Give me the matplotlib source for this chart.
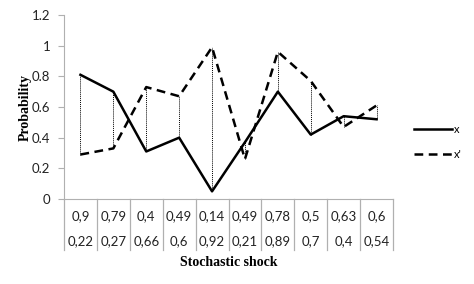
import matplotlib
matplotlib.use('Agg')
import matplotlib.pyplot as plt
import matplotlib.transforms as mtransforms

# category labels (two-level axis) and series
row1 = ['0,9', '0,79', '0,4', '0,49', '0,14', '0,49', '0,78', '0,5', '0,63', '0,6']
row2 = ['0,22', '0,27', '0,66', '0,6', '0,92', '0,21', '0,89', '0,7', '0,4', '0,54']
x_vals = [0.81, 0.70, 0.31, 0.40, 0.05, 0.37, 0.70, 0.42, 0.54, 0.52]
xp_vals = [0.29, 0.33, 0.73, 0.67, 0.99, 0.26, 0.96, 0.77, 0.47, 0.61]
yticks = [0, 0.2, 0.4, 0.6, 0.8, 1, 1.2]
ytick_labels = ['0', '0.2', '0.4', '0.6', '0.8', '1', '1.2']

grey = '#b0b0b0'
tick_font = 'Lato'
fs = 9.5

fig = plt.figure(figsize=(4.74, 2.84), dpi=100)
ax = fig.add_axes([64/474, 1-199/284, (393-64)/474, (199-15)/284])

n = len(x_vals)
pos = [i + 0.5 for i in range(n)]

# high-low drop lines
lo = [min(a, b) for a, b in zip(x_vals, xp_vals)]
hi = [max(a, b) for a, b in zip(x_vals, xp_vals)]
ax.vlines(pos, lo, hi, colors='black', linestyles=(0, (1, 1)), linewidth=0.7)

ax.plot(pos, x_vals, color='black', lw=1.8, label='x')
ax.plot(pos, xp_vals, color='black', lw=1.8, dashes=(3.5, 2.2), label="x'")

ax.set_xlim(0, n)
ax.set_ylim(0, 1.2)
ax.set_yticks(yticks)
ax.set_yticklabels(ytick_labels, fontfamily=tick_font, fontsize=fs, color='#222222')
ax.tick_params(axis='y', direction='out', length=4, color=grey, pad=6)
ax.set_xticks([])

for s in ['top', 'right']:
    ax.spines[s].set_visible(False)
ax.spines['left'].set_color(grey)
ax.spines['bottom'].set_color(grey)

# two-row category table under the axis
trans = mtransforms.blended_transform_factory(ax.transData, ax.transAxes)
tbl_h = (250 - 199) / (199 - 15)
for i in range(n + 1):
    ax.plot([i, i], [0, -tbl_h], transform=trans, color=grey, lw=0.9, clip_on=False)
r1 = -(216.5 - 199) / (199 - 15)
r2 = -(241.5 - 199) / (199 - 15)
for i in range(n):
    ax.text(pos[i], r1, row1[i], transform=trans, ha='center', va='center',
            fontfamily=tick_font, fontsize=fs, color='#222222')
    ax.text(pos[i], r2, row2[i], transform=trans, ha='center', va='center',
            fontfamily=tick_font, fontsize=fs, color='#222222')

fig.text(229/474, 1-262/284, 'Stochastic shock', ha='center', va='center',
         fontfamily='Liberation Serif', fontweight='bold', fontsize=10)
fig.text(25/474, 1-107/284, 'Probability', ha='center', va='center', rotation=90,
         fontfamily='Liberation Serif', fontweight='bold', fontsize=10)

leg = ax.legend(loc='center left', bbox_to_anchor=(404/474, 1-142/284),
                bbox_transform=fig.transFigure, frameon=False,
                handlelength=3.4, handletextpad=0.2, labelspacing=1.3,
                prop={'family': tick_font, 'size': 8})

fig.savefig('out.png', dpi=100)
